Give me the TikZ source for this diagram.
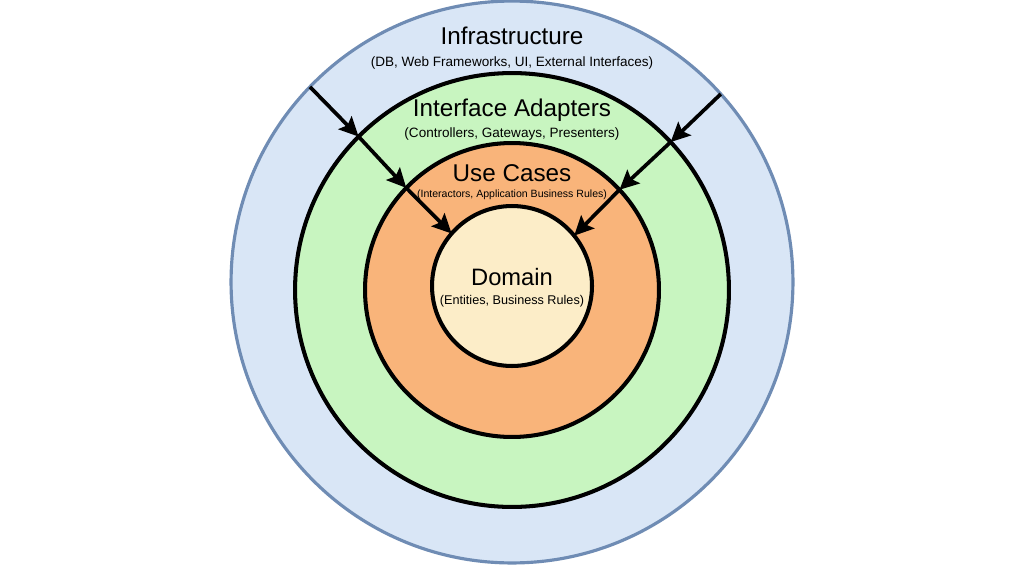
\documentclass[tikz,border=0pt]{standalone}
\usepackage{fontspec}
\setmainfont{Liberation Sans}
\usetikzlibrary{arrows.meta}
\definecolor{infrafill}{HTML}{D9E6F6}
\definecolor{infraline}{HTML}{6F8CB4}
\definecolor{adapterfill}{HTML}{C8F5C0}
\definecolor{usecasefill}{HTML}{F9B47A}
\definecolor{domainfill}{HTML}{FCEDC8}
\begin{document}
\begin{tikzpicture}[x=0.02cm,y=-0.02cm,
  ring/.style={circle, inner sep=0pt, outer sep=0pt, draw=black, line width=2.3pt},
  layertitle/.style={anchor=base, inner sep=0pt, font=\fontsize{13.8}{16}\selectfont},
  layersub/.style={anchor=base, inner sep=0pt, font=\fontsize{7.7}{9}\selectfont},
  dep/.style={draw=black, line width=2.1pt, -{Stealth[length=11pt,width=10.5pt,inset=2pt]}}]
\fill[white] (0,0) rectangle (1024,565);
\useasboundingbox (0,0) rectangle (1024,565);
% layers
\node[ring, draw=infraline, line width=1.8pt, fill=infrafill, minimum size=11.24cm] (infra) at (512,282) {};
\node[ring, fill=adapterfill, minimum size=8.68cm] (adapters) at (512,290) {};
\node[ring, fill=usecasefill, minimum size=5.88cm] (usecases) at (512,290) {};
\node[ring, fill=domainfill, minimum size=3.2cm] (domain) at (512,286) {};
% dependency arrows (left)
\draw[dep] (infra.136.9) -- (adapters.135.9);
\draw[dep] (adapters.135.9) -- (usecases.136.4);
\draw[dep] (usecases.136.4) -- (domain.139.5);
% dependency arrows (right)
\draw[dep] (infra.42.8) -- (adapters.43.7);
\draw[dep] (adapters.43.7) -- (usecases.43.1);
\draw[dep] (usecases.43.1) -- (domain.39.4);
% labels
\node[layertitle] (infraT) at (512,44) {Infrastructure};
\node[layersub] (infraS) at (512,66) {(DB, Web Frameworks, UI, External Interfaces)};
\node[layertitle] (adaptT) at (512,116) {Interface Adapters};
\node[layersub] (adaptS) at (512,137) {(Controllers, Gateways, Presenters)};
\node[layertitle] (ucT) at (512,181) {Use Cases};
\node[layersub, font=\fontsize{6}{7}\selectfont] (ucS) at (512,197) {(Interactors, Application Business Rules)};
\node[layertitle, font=\fontsize{13.5}{16}\selectfont] (domT) at (512,285) {Domain};
\node[layersub, font=\fontsize{7.2}{9}\selectfont] (domS) at (512,304) {(Entities, Business Rules)};
\end{tikzpicture}
\end{document}
